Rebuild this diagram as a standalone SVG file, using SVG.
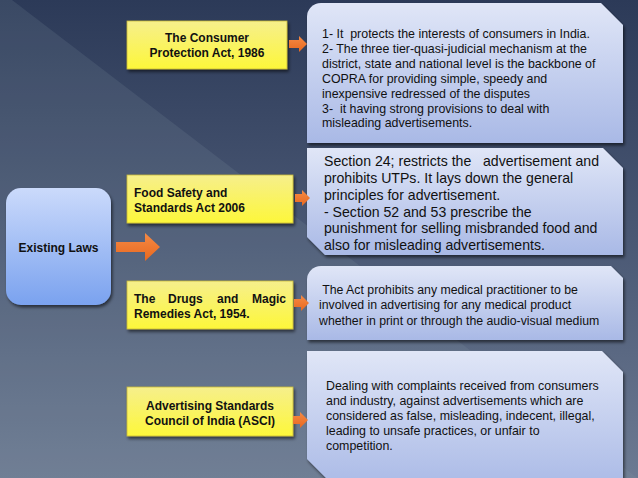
<svg xmlns="http://www.w3.org/2000/svg" width="638" height="478" viewBox="0 0 638 478">
<defs>
<linearGradient id="bg" x1="0" y1="0" x2="0" y2="1">
<stop offset="0" stop-color="#2c3a58"/>
<stop offset="0.5" stop-color="#4a5874"/>
<stop offset="1" stop-color="#6c7a92"/>
</linearGradient>
<linearGradient id="blue" x1="0" y1="0" x2="0" y2="1">
<stop offset="0" stop-color="#e0e6f7"/>
<stop offset="1" stop-color="#a9b9e6"/>
</linearGradient>
<linearGradient id="root" x1="0" y1="0" x2="0" y2="1">
<stop offset="0" stop-color="#cbdafb"/>
<stop offset="1" stop-color="#7aa2ef"/>
</linearGradient>
<linearGradient id="yel" x1="0" y1="0" x2="0" y2="1">
<stop offset="0" stop-color="#f6ef8c"/>
<stop offset="1" stop-color="#fdf73a"/>
</linearGradient>
<linearGradient id="org" x1="0" y1="0" x2="0" y2="1">
<stop offset="0" stop-color="#f58a45"/>
<stop offset="1" stop-color="#e8681f"/>
</linearGradient>
<filter id="sh" x="-10%" y="-10%" width="130%" height="140%">
<feDropShadow dx="1.5" dy="2.5" stdDeviation="1.5" flood-color="#000" flood-opacity="0.55"/>
</filter>
<style>
.y{fill:url(#yel);stroke:#c9b938;stroke-width:0.8;filter:url(#sh)}
.b{fill:url(#blue);filter:url(#sh)}
.lt{font-family:"Liberation Sans",Arial,sans-serif;font-weight:bold;font-size:12px;fill:#111}
.t{font-family:"Liberation Sans",Arial,sans-serif;font-size:12.4px;fill:#111}
.tb{font-family:"Liberation Sans",Arial,sans-serif;font-size:14.1px;fill:#111}
.a{fill:url(#org)}
</style>
</defs>
<rect width="638" height="478" fill="url(#bg)"/>
<polygon points="0,0 12,0 640,480 0,478" fill="#8a9aa8" opacity="0.16"/>

<g id="existing-laws">
<rect x="6" y="188" width="105" height="117" rx="15" fill="url(#root)" filter="url(#sh)"/>
<text class="lt" x="58.5" y="252" text-anchor="middle">Existing Laws</text>
</g>

<g id="consumer-act">
<rect class="y" x="127" y="21" width="160" height="48"/>
<text class="lt" x="207" y="42" text-anchor="middle">The Consumer</text>
<text class="lt" x="207" y="57" text-anchor="middle">Protection Act, 1986</text>
</g>

<g id="food-act">
<rect class="y" x="127" y="175" width="166" height="48"/>
<text class="lt" x="134" y="197">Food Safety and</text>
<text class="lt" x="134" y="212">Standards Act 2006</text>
</g>

<g id="drugs-act">
<rect class="y" x="127" y="281" width="166" height="48"/>
<text class="lt" x="134" y="303">The</text>
<text class="lt" x="168" y="303">Drugs</text>
<text class="lt" x="217" y="303">and</text>
<text class="lt" x="286" y="303" text-anchor="end">Magic</text>
<text class="lt" x="134" y="318">Remedies Act, 1954.</text>
</g>

<g id="asci">
<rect class="y" x="127" y="387" width="166" height="49"/>
<text class="lt" x="210" y="409.5" text-anchor="middle">Advertising Standards</text>
<text class="lt" x="210" y="424.5" text-anchor="middle">Council of India (ASCI)</text>
</g>

<g id="consumer-desc">
<path class="b" d="M307 17 A14 14 0 0 1 321 3 H601 L623 25 V143 H307 Z"/>
<text class="t" xml:space="preserve"><tspan x="322" y="38">1- It  protects the interests of consumers in India.</tspan><tspan x="322" y="53">2- The three tier-quasi-judicial mechanism at the</tspan><tspan x="322" y="68">district, state and national level is the backbone of</tspan><tspan x="322" y="83">COPRA for providing simple, speedy and</tspan><tspan x="322" y="97.5">inexpensive redressed of the disputes</tspan><tspan x="322" y="112.5">3-  it having strong provisions to deal with</tspan><tspan x="322" y="127">misleading advertisements.</tspan></text>
</g>

<g id="food-desc">
<path class="b" d="M307 148 H603 L623 168 V255 H325 L307 237 Z"/>
<text class="tb" xml:space="preserve"><tspan x="324" y="166">Section 24; restricts the   advertisement and</tspan><tspan x="324" y="182.5">prohibits UTPs. It lays down the general</tspan><tspan x="324" y="199.5">principles for advertisement.</tspan><tspan x="324" y="216.5">- Section 52 and 53 prescribe the</tspan><tspan x="324" y="233">punishment for selling misbranded food and</tspan><tspan x="324" y="250">also for misleading advertisements.</tspan></text>
</g>

<g id="drugs-desc">
<path class="b" d="M307 280 A14 14 0 0 1 321 266 H611 L623 278 V340 H307 Z"/>
<text class="t" style="font-size:12.3px" xml:space="preserve"><tspan x="319" y="293.5"> The Act prohibits any medical practitioner to be</tspan><tspan x="319" y="309">involved in advertising for any medical product</tspan><tspan x="319" y="324.5">whether in print or through the audio-visual medium</tspan></text>
</g>

<g id="asci-desc">
<path class="b" d="M307 351 H602 L623 372 V490 H338 L307 459 Z"/>
<text class="t"><tspan x="326" y="389.5">Dealing with complaints received from consumers</tspan><tspan x="326" y="404.5">and industry, against advertisements which are</tspan><tspan x="326" y="419.5">considered as false, misleading, indecent, illegal,</tspan><tspan x="326" y="434.5">leading to unsafe practices, or unfair to</tspan><tspan x="326" y="449.5">competition.</tspan></text>
</g>

<g id="connectors">
<path class="a" d="M116 242 H145 V233 L160 247 L145 261 V252 H116 Z"/>
<path class="a" d="M289 40 H299 V36 L307 44 L299 52 V48 H289 Z"/>
<path class="a" d="M295 194 H302 V190 L310 198 L302 206 V202 H295 Z"/>
<path class="a" d="M294 299 H301 V295 L309 303 L301 311 V307 H294 Z"/>
<path class="a" d="M293 416 H300 V412 L308 420 L300 428 V424 H293 Z"/>
</g>
</svg>
